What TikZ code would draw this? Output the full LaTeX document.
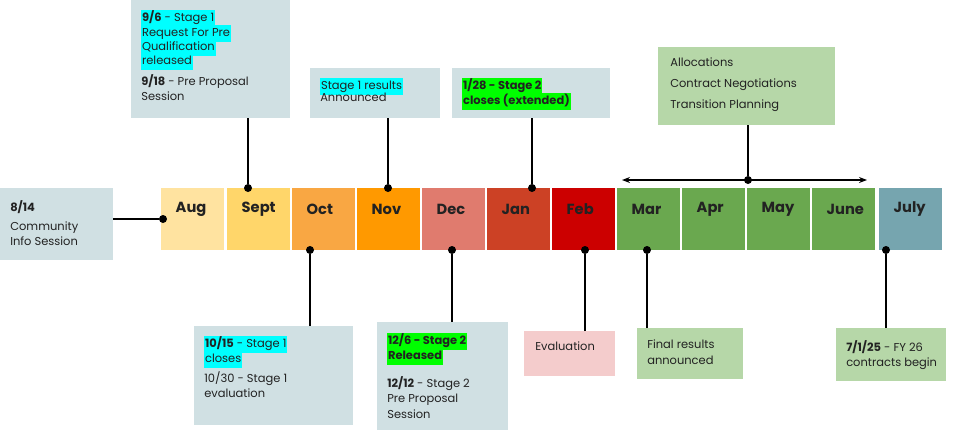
\documentclass[tikz,border=0pt]{standalone}
\usepackage{fontspec}
\setmainfont{Poppins}
\usetikzlibrary{arrows.meta}
\definecolor{cbox}{HTML}{D0E0E3}
\definecolor{hcy}{HTML}{00FFFF}
\definecolor{hgr}{HTML}{00FF00}
\definecolor{pinkb}{HTML}{F4CCCC}
\definecolor{greenb}{HTML}{B6D7A8}
\definecolor{txt}{HTML}{222222}
\newcommand{\hla}[2]{{\setlength{\fboxsep}{0.6pt}\colorbox{#1}{\strut #2}}}
\tikzset{
 callout/.style={fill=cbox, draw=none, inner sep=0pt},
 ctext/.style={anchor=north west, align=left, font=\fontsize{8.6}{11.5}\selectfont, text=txt, inner sep=0pt},
 month/.style={anchor=north west, minimum width=63*0.75pt, minimum height=62*0.75pt, inner sep=0pt, draw=none},
 mlab/.style={font=\bfseries\fontsize{11}{12}\selectfont, text=txt, anchor=west},
 conn/.style={line width=1.3pt, black},
 dotc/.style={circle, fill=black, inner sep=0pt, minimum size=6pt}
}
\begin{document}
\begin{tikzpicture}[x=0.75pt,y=-0.75pt]
\useasboundingbox (0,0) rectangle (960,436);
% months
\foreach \n/\x/\c/\l in {aug/161/FFE3A0/Aug, sep/227/FFD66A/Sept, oct/292/F9A743/Oct, nov/357/FF9900/Nov, dec/422/E07B6E/Dec, jan/487/CC4125/Jan, feb/552/CC0000/Feb, mar/617/6AA84F/Mar, apr/682/6AA84F/Apr, may/747/6AA84F/May, jun/812/6AA84F/June, jul/879/76A5AF/July}{
  \definecolor{mc}{HTML}{\c}
  \node[month, fill=mc] (\n) at (\x,188) {};
  \node[mlab] (\n l) at (\x+10,209) {\l};
}
% callout boxes
\fill[cbox] (0,188) rectangle (113,260);
\node[ctext] (t814) at (10,200) {\textbf{8/14}\\[3pt]Community\\Info Session};
\coordinate (c814) at (113,219);
\node[dotc] (d814) at (163,219) {};
\draw[conn] (c814) -- (d814);

\fill[cbox] (131,0) rectangle (290,118);
\node[ctext] (t96) at (141,10) {\hla{hcy}{\textbf{9/6} - Stage 1}\\[-3pt]\hla{hcy}{Request For Pre}\\[-3pt]\hla{hcy}{Qualification}\\[-3pt]\hla{hcy}{released}\\[2pt]\textbf{9/18} - Pre Proposal\\Session};
\coordinate (c96) at (248,118);
\node[dotc] (d96) at (248,188) {};
\draw[conn] (c96) -- (d96);

\fill[cbox] (310,68) rectangle (440,118);
\node[ctext] (tnov) at (320,78) {\hla{hcy}{Stage 1 results}\\[-3pt]Announced};
\coordinate (cnov) at (388,118);
\node[dotc] (dnov) at (388,188) {};
\draw[conn] (cnov) -- (dnov);

\fill[cbox] (452,68) rectangle (610,118);
\node[ctext] (tjan) at (462,78) {\hla{hgr}{\textbf{1/28 - Stage 2}}\\[-3pt]\hla{hgr}{\textbf{closes (extended)}}};
\coordinate (cjan) at (532,118);
\node[dotc] (djan) at (532,188) {};
\draw[conn] (cjan) -- (djan);

\fill[cbox] (194,326) rectangle (353,425);
\node[ctext] (toct) at (204,336) {\hla{hcy}{\textbf{10/15} - Stage 1}\\[-3pt]\hla{hcy}{closes}\\[2pt]10/30 - Stage 1\\evaluation};
\coordinate (coct) at (310,326);
\node[dotc] (doct) at (310,250) {};
\draw[conn] (coct) -- (doct);

\fill[cbox] (377,322) rectangle (508,430);
\node[ctext] (tdec) at (387,333) {\hla{hgr}{\textbf{12/6 - Stage 2}}\\[-3pt]\hla{hgr}{\textbf{Released}}\\[8pt]\textbf{12/12} - Stage 2\\Pre Proposal\\Session};
\coordinate (cdec) at (452,322);
\node[dotc] (ddec) at (452,250) {};
\draw[conn] (cdec) -- (ddec);

\fill[pinkb] (524,331) rectangle (615,376);
\node[ctext] (tfeb) at (535,342) {Evaluation};
\coordinate (cfeb) at (585,331);
\node[dotc] (dfeb) at (585,250) {};
\draw[conn] (cfeb) -- (dfeb);

\fill[greenb] (637,328) rectangle (743,379);
\node[ctext] (tmar) at (647,340) {Final results\\announced};
\coordinate (cmar) at (647,328);
\node[dotc] (dmar) at (647,250) {};
\draw[conn] (cmar) -- (dmar);

\fill[greenb] (836,328) rectangle (946,381);
\node[ctext] (tjul) at (846,340) {\textbf{7/1/25} - FY 26\\contracts begin};
\coordinate (cjul) at (886,328);
\node[dotc] (djul) at (886,250) {};
\draw[conn] (cjul) -- (djul);

\fill[greenb] (658,47) rectangle (835,125);
\node[ctext] (tgr) at (670,58) {Allocations\\[4pt]Contract Negotiations\\[4pt]Transition Planning};
\coordinate (cgr) at (748,125);
\coordinate (al) at (622,180);
\coordinate (ar) at (867,180);
\node[dotc] (dgr) at (748,180) {};
\draw[conn] (cgr) -- (dgr);
\draw[line width=1.3pt, {Stealth[length=6pt]}-{Stealth[length=6pt]}] (al) -- (ar);
\end{tikzpicture}
\end{document}
